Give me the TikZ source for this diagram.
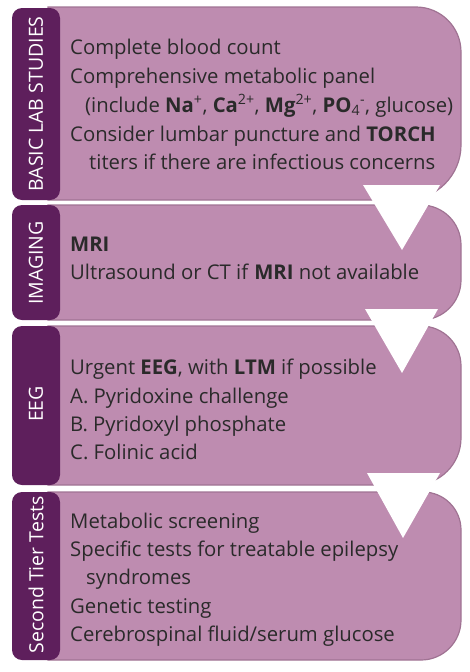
\documentclass[tikz,border=0pt]{standalone}
\usepackage{fontspec}
\setmainfont{Open Sans}
\definecolor{panelc}{HTML}{BE8CB0}
\definecolor{panelb}{HTML}{A07393}
\definecolor{tabc}{HTML}{5E1F5C}
\definecolor{txt}{HTML}{2A2A2A}
\begin{document}
\begin{tikzpicture}[x=1pt,y=-1pt,
  panel/.style={fill=panelc,draw=panelb,line width=1.2pt},
  tabbox/.style={fill=tabc,rounded corners=10pt},
  notch/.style={fill=white},
  body/.style={anchor=west,inner sep=0pt,text=txt,font=\fontsize{20.3}{24}\selectfont,text height=12pt,text depth=0pt},
  tablabel/.style={rotate=90,text=white,inner sep=0pt,font=\fontsize{19.5}{22}\selectfont}]
\useasboundingbox (0,0) rectangle (470,672);
% panels
\draw[panel] (48,7) -- (416,7) arc[start angle=-90,end angle=0,radius=45] -- (461,145) arc[start angle=0,end angle=90,radius=55] -- (48,200) -- cycle;
\draw[panel] (48,205) -- (421,205) arc[start angle=-90,end angle=0,radius=40] -- (461,280) arc[start angle=0,end angle=90,radius=40] -- (48,320) -- cycle;
\draw[panel] (48,326) -- (421,326) arc[start angle=-90,end angle=0,radius=40] -- (461,438) arc[start angle=0,end angle=90,radius=47] -- (48,485) -- cycle;
\draw[panel] (48,492) -- (423,492) arc[start angle=-90,end angle=0,radius=38] -- (461,620) arc[start angle=0,end angle=90,radius=40] -- (48,660) -- cycle;
% tabs
\fill[tabbox] (12,8) rectangle (60,200);
\fill[tabbox] (12,205) rectangle (60,320);
\fill[tabbox] (12,326) rectangle (60,485);
\fill[tabbox] (12,492) rectangle (60,660);
% notches
\fill[notch] (363,185) -- (440,185) -- (402,250) -- cycle;
\fill[notch] (365,309) -- (438,309) -- (402,373) -- cycle;
\fill[notch] (367,473) -- (440,473) -- (403,538) -- cycle;
% tab labels
\node[tablabel] (l1) at (36,104) {BASIC LAB STUDIES};
\node[tablabel] (l2) at (36,263) {IMAGING};
\node[tablabel] (l3) at (36,404) {EEG};
\node[tablabel] (l4) at (36,575) {Second Tier Tests};
% box 1
\node[body] (a1) at (70,48) {Complete blood count};
\node[body] (a2) at (70,77) {Comprehensive metabolic panel};
\node[body] (a3) at (85,106) {(include \textbf{Na}\textsuperscript{+}, \textbf{Ca}\textsuperscript{2+}, \textbf{Mg}\textsuperscript{2+}, \textbf{PO}\textsubscript{4}\textsuperscript{-}, glucose)};
\node[body] (a4) at (70,135) {Consider lumbar puncture and \textbf{TORCH}};
\node[body] (a5) at (89,163) {titers if there are infectious concerns};
% box 2
\node[body] (b1) at (70,245) {\textbf{MRI}};
\node[body] (b2) at (70,273) {Ultrasound or CT if \textbf{MRI} not available};
% box 3
\node[body] (c1) at (70,368) {Urgent \textbf{EEG}, with \textbf{LTM} if possible};
\node[body] (c2) at (70,397) {A. Pyridoxine challenge};
\node[body] (c3) at (70,425) {B. Pyridoxyl phosphate};
\node[body] (c4) at (70,453) {C. Folinic acid};
% box 4
\node[body] (d1) at (70,522) {Metabolic screening};
\node[body] (d2) at (70,550) {Specific tests for treatable epilepsy};
\node[body] (d3) at (86,578) {syndromes};
\node[body] (d4) at (70,607) {Genetic testing};
\node[body] (d5) at (70,635) {Cerebrospinal fluid/serum glucose};
\end{tikzpicture}
\end{document}
